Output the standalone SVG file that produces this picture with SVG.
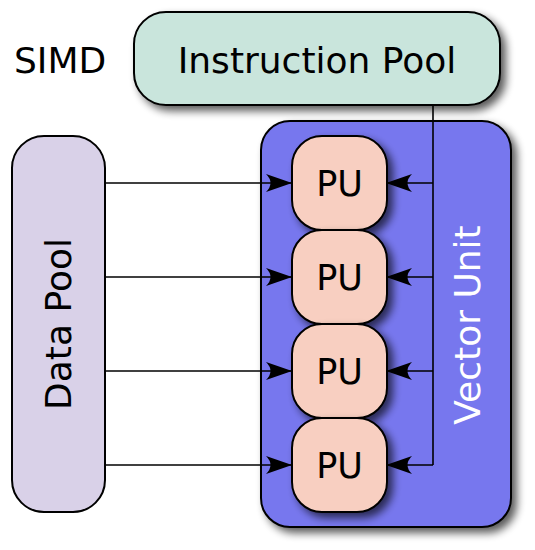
<svg xmlns="http://www.w3.org/2000/svg" width="535" height="550" viewBox="0 0 535 550">
  <style>
    .box { stroke: #000; stroke-width: 2; }
    .lbl { font-family: "DejaVu Sans", sans-serif; font-size: 36px; fill: #000; }
    .conn { stroke: #000; stroke-width: 1.6; fill: none; }
  </style>
  <defs>
    <filter id="sh" x="-20%" y="-20%" width="150%" height="150%">
      <feGaussianBlur in="SourceAlpha" stdDeviation="4.5"/>
      <feOffset dx="5" dy="5" result="b"/>
      <feComponentTransfer><feFuncA type="linear" slope="0.65"/></feComponentTransfer>
      <feMerge><feMergeNode/><feMergeNode in="SourceGraphic"/></feMerge>
    </filter>
    <marker id="arr" viewBox="-27 -10 29 20" refX="0" refY="0" markerWidth="29" markerHeight="20" markerUnits="userSpaceOnUse" orient="auto">
      <path d="M0,0 L-26,-9 Q-17,0 -26,9 Z" fill="#000"/>
    </marker>
  </defs>
  <rect width="535" height="550" fill="#ffffff"/>

  <text class="lbl" x="14" y="73">SIMD</text>

  <g id="instruction-pool">
    <rect class="box" x="134" y="12" width="366" height="93" rx="32" fill="#c9e5dc" filter="url(#sh)"/>
    <text class="lbl" x="317" y="73" text-anchor="middle">Instruction Pool</text>
  </g>

  <g id="data-pool">
    <rect class="box" x="12" y="136" width="93" height="376" rx="32" fill="#d9d1e8"/>
    <text class="lbl" transform="translate(71,324) rotate(-90)" text-anchor="middle">Data Pool</text>
  </g>

  <g id="vector-unit">
    <rect class="box" x="261" y="121" width="250" height="406" rx="29" fill="#7777ee" filter="url(#sh)"/>
    <text class="lbl" transform="translate(480,325) rotate(-90)" text-anchor="middle" style="fill:#ffffff">Vector Unit</text>
  </g>

  <g id="pu1">
    <rect class="box" x="292" y="136" width="95" height="94" rx="30" fill="#f8cfc1" filter="url(#sh)"/>
    <text class="lbl" x="339.5" y="196" text-anchor="middle" style="font-size:35px">PU</text>
  </g>
  <g id="pu2">
    <rect class="box" x="292" y="230" width="95" height="94" rx="30" fill="#f8cfc1" filter="url(#sh)"/>
    <text class="lbl" x="339.5" y="290" text-anchor="middle" style="font-size:35px">PU</text>
  </g>
  <g id="pu3">
    <rect class="box" x="292" y="324" width="95" height="94" rx="30" fill="#f8cfc1" filter="url(#sh)"/>
    <text class="lbl" x="339.5" y="384" text-anchor="middle" style="font-size:35px">PU</text>
  </g>
  <g id="pu4">
    <rect class="box" x="292" y="418" width="95" height="94" rx="30" fill="#f8cfc1" filter="url(#sh)"/>
    <text class="lbl" x="339.5" y="478" text-anchor="middle" style="font-size:35px">PU</text>
  </g>

  <g id="connectors">
    <line class="conn" x1="105" y1="183" x2="292" y2="183" marker-end="url(#arr)"/>
    <line class="conn" x1="105" y1="277" x2="292" y2="277" marker-end="url(#arr)"/>
    <line class="conn" x1="105" y1="371" x2="292" y2="371" marker-end="url(#arr)"/>
    <line class="conn" x1="105" y1="465" x2="292" y2="465" marker-end="url(#arr)"/>
    <path class="conn" d="M433,105 V465"/>
    <line class="conn" x1="433" y1="183" x2="386" y2="183" marker-end="url(#arr)"/>
    <line class="conn" x1="433" y1="277" x2="386" y2="277" marker-end="url(#arr)"/>
    <line class="conn" x1="433" y1="371" x2="386" y2="371" marker-end="url(#arr)"/>
    <line class="conn" x1="433" y1="465" x2="386" y2="465" marker-end="url(#arr)"/>
  </g>
</svg>
